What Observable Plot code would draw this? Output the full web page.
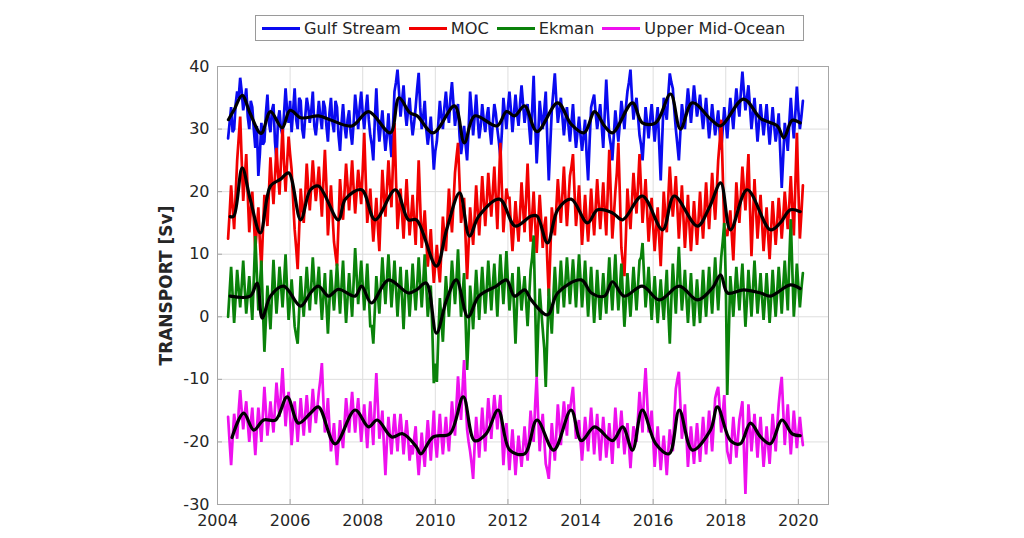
<!DOCTYPE html>
<html>
<head>
<meta charset="utf-8">
<script src="https://cdn.jsdelivr.net/npm/d3@7"></script>
<script src="https://cdn.jsdelivr.net/npm/@observablehq/plot@0.6"></script>
<style>
  html, body { margin: 0; padding: 0; background: #ffffff; }
  #wrap { position: relative; width: 1024px; height: 538px; font-family: "DejaVu Sans", sans-serif; }
  #legend { position: absolute; left: 255px; top: 15px; width: 549px; height: 26px; border: 1px solid #9a9a9a; background: #fff;
            display: flex; align-items: center; font-size: 16.2px; color: #262626; white-space: nowrap; box-sizing: border-box; padding-left: 6px; z-index: 2; }
  #legend .item { display: inline-flex; align-items: center; margin-right: 8px; }
  #legend .sw { display: inline-block; width: 38px; height: 3px; margin-right: 4px; }
  #chart svg g[aria-label="y-axis label"] text { font-weight: bold; font-size: 17px; }
</style>
</head>
<body>
<div id="wrap">
  <div id="legend"></div>
  <div id="chart"></div>
</div>
<script>
// ---- Data ----
// Monthly values starting April 2004 and ending February 2020,
// plus the in-between (mid-month) values of each series.
const firstMonth = 2004.25;
const seriesNames = ["Gulf Stream", "MOC", "Ekman", "Upper Mid-Ocean"];
const seriesColors = ["#0a0af0", "#f20000", "#0a820a", "#ee10ee"];

const gulfStream = [
  28.5, 33.5, 30, 36, 38.2, 33, 36.5, 30, 33.5,
  27, 22.5, 31, 28, 35.5, 29.5, 34, 25, 33, 29, 36.5, 31,
  29.5, 36.5, 30, 34.5, 28.5, 35, 31, 36, 29, 34.5, 30, 33.5,
  28, 35, 29.5, 33.5, 26.5, 34, 28.5, 33, 27.5, 35.5, 30, 36,
  30, 35.5, 29, 25, 36.5, 28, 33, 26.5, 32.5, 25.5, 36, 39.5,
  32, 37, 30.5, 35, 29, 33.5, 39, 30, 34.5, 27.5, 32, 23.5,
  28, 34.5, 30, 36, 31, 37.5, 30.5, 34, 26, 30.5, 25, 36,
  29, 35.5, 28.5, 34, 29.5, 33.5, 27.5, 34, 30, 25.5, 35, 30,
  36, 29.5, 35.5, 30.5, 37, 31, 34, 27.5, 38.5, 24.5, 34.5, 30,
  36, 21.8, 33, 38.9, 31, 35, 29, 33.5, 28, 34, 27, 32,
  26.5, 31.5, 21.8, 33.5, 35.5, 30, 34, 27, 37.9, 29, 25, 33,
  28, 34.5, 30, 36, 39.5, 31.5, 35, 29, 25, 33.5, 28.5, 34,
  28, 33.5, 21.8, 35, 31.5, 38.9, 36.5, 30, 25, 34, 30, 36.5,
  31, 37, 32, 35.5, 30, 35, 28.5, 34, 29, 33, 26.7, 33.5,
  28.5, 35, 30, 36.5, 32, 39.2, 33, 37, 30, 35, 28, 34,
  29, 34, 27.5, 33.5, 28, 32.5, 20.6, 31, 26.5, 35, 28.5, 36.8,
  30, 34.5
];
const gulfStreamMid = [
  31, 29.5, 34, 35, 36, 34.5, 32, 34.5, 30,
  30.5, 26, 27.5, 32.5, 31, 33, 28, 31.5, 30, 32.5, 33, 34.5,
  33, 31.5, 35, 30, 32, 33.5, 33, 30.5, 31.5, 32, 34.5, 30.5,
  32.5, 31, 34.5, 29, 31, 30.5, 31.5, 29.5, 31, 33, 33.5, 32.5,
  33, 31.5, 27.5, 31.5, 31, 30.5, 29.5, 29, 28.5, 30.5, 37.5, 36,
  34.5, 33, 33, 31.5, 31, 36.5, 33.5, 32, 30, 29.5, 28, 26.5,
  31, 32, 33.5, 33, 35, 34, 32.5, 29, 28, 27.5, 30, 33,
  32, 31.5, 30.5, 31.5, 32, 30, 31, 32.5, 28, 29.5, 32.5, 33.5,
  33, 32.5, 32.5, 34, 34, 33, 30.5, 33, 31, 29, 32, 33,
  28.5, 27.5, 36, 34.5, 33, 32, 31.5, 30.5, 31, 30, 29.5, 29,
  29, 26, 28, 34.5, 32.5, 32, 30.5, 32.5, 33, 27.5, 29, 30.5,
  31, 32.5, 33.5, 37.5, 35, 33.5, 32, 27.5, 29, 31, 31.5, 31,
  31, 27.5, 28.5, 33, 35.5, 37.5, 33, 27.5, 29.5, 32, 33.5, 34,
  34, 34.5, 33.5, 32.5, 32.5, 31.5, 31, 31.5, 31, 29.5, 30, 31,
  32, 32.5, 33.5, 34, 36, 36, 35, 33.5, 32.5, 31.5, 31, 31.5,
  31.5, 30.5, 30.5, 30.5, 30, 26.5, 25.5, 29, 31, 31.5, 32.5, 33,
  32
];
const moc = [
  12.5, 21, 14, 25, 32, 18.5, 26, 13.5, 20,
  10.8, 17.5, 7.6, 19.5, 14.5, 25.5, 18, 27, 19.5, 30.4, 20, 28.8,
  23.5, 14, 7.6, 20.5, 15, 24.5, 17, 25, 18.5, 24, 16, 26.7,
  13, 21, 12, 8.1, 22, 15.5, 24.5, 17, 25, 16.5, 23.5, 18,
  29.4, 15, 20.5, 12, 19, 10.5, 23.5, 16, 25, 17.5, 31, 14,
  20.5, 12.5, 22, 13, 19.5, 11.5, 25, 11, 17, 8, 14, 5.4,
  11.5, 5.5, 16, 10.5, 20.5, 13.5, 23, 27.8, 15, 19, 6, 17.5,
  11.5, 21, 13, 22.5, 14.5, 23, 16, 24, 14, 27.8, 13.5, 20.5,
  19, 10.5, 18.5, 12, 21.5, 13.5, 24.5, 12, 20, 10.2, 19.5, 11,
  16, 3.3, 17.5, 13, 22, 15, 24, 14.5, 22.5, 26, 14.5, 21,
  11.5, 19.5, 12, 20.5, 13, 22, 14, 21.5, 13, 26.7, 12.5, 20,
  27.8, 11, 6.5, 20.5, 14, 23, 16.5, 26, 15, 22, 12, 19,
  10.5, 17.5, 8.1, 20, 13.5, 24, 16, 22.5, 12.5, 21, 11, 19.5,
  10.5, 18.5, 11.5, 20, 12.5, 21.5, 14, 23, 15.5, 25, 31.5, 14.5,
  12.9, 17, 9, 21.5, 15, 24, 17, 26, 9.7, 22, 12.5, 19.5,
  10.5, 17.5, 9.2, 18.5, 11.5, 19, 12.5, 20, 14, 22.5, 13, 29.4,
  12.5, 21
];
const mocMid = [
  16.5, 17.5, 19.5, 28.5, 25, 22, 19.5, 17, 15.5,
  14, 12, 13.5, 17, 20, 21.5, 22.5, 23, 25, 24.5, 24.5, 26,
  18.5, 11, 14, 17.5, 19.5, 20.5, 21, 21.5, 21, 20, 21.5, 21,
  17, 16.5, 10, 15, 18.5, 20, 21, 21, 20.5, 20, 21, 23.5,
  22, 17.5, 16, 15.5, 14.5, 17, 19.5, 20.5, 21, 24.5, 22, 17,
  16.5, 17.5, 17.5, 16, 15.5, 18, 18, 14, 12.5, 11, 9.5, 8.5,
  8, 10.5, 13, 15.5, 17, 18, 25.5, 21.5, 17, 12.5, 11.5, 14.5,
  16, 17, 17.5, 18.5, 18.5, 19.5, 20, 19, 21, 20.5, 17, 19,
  14.5, 14.5, 15, 16.5, 17.5, 19, 18, 16, 15, 15, 15.5, 14.5,
  9, 10, 15, 17.5, 18.5, 19.5, 19, 18.5, 24, 20, 17.5, 16.5,
  15.5, 15.5, 16, 16.5, 17.5, 18, 17.5, 17, 20, 19.5, 16, 23,
  19.5, 8.5, 13, 17, 18.5, 19.5, 21, 20.5, 18.5, 17, 15.5, 14.5,
  14, 12.5, 14, 16.5, 19, 20, 19, 17.5, 16.5, 16, 15, 14.5,
  14.5, 15, 15.5, 16, 17, 17.5, 18.5, 19, 20, 28, 23, 13.5,
  15, 13, 15, 18, 19.5, 20.5, 21.5, 17.5, 16, 17, 16, 15,
  14, 13, 14, 15, 15, 16, 16, 17, 18, 17.5, 21, 20.5,
  16.5
];
const ekman = [
  0, 8, -1, 7.5, 1.5, 9, 0.5, 6.5, -0.5,
  12.9, 1, 9, -5.6, 5, -2, 9.1, 0.5, 8, 1.5, 10, -0.5,
  6, -1.5, -4.3, 6.5, 0, 8, 1, 9.5, 2, 8, -0.5, 7,
  -2.7, 7.5, 1, 8.5, 0.5, 9, -1, 7, 0, 11, 2, 9,
  1, 8.5, -1.5, -4.3, 6.5, 0.5, 9.5, 2, 10, 1.5, 9, 0,
  8, -2, 7.5, 0, 8.5, 1, 9.5, 1.5, 10, 0, 5, -10.6,
  -10.4, 3, -4, 6.5, 0, 9, 2, 10.8, 0, 7, -8.5, 5,
  -2, 7.5, -0.5, 8, 0.5, 9, 1, 8.5, 0, 10, 2, 10.5,
  1, 7, -4.3, 8, 1, 6.5, -1.5, 7.5, 13, -9.6, 4.5, -2,
  -11.2, 4.5, -2.7, 8, 0.5, 9, 1.5, 9.5, 2, 9.2, 1.5, 10,
  1.5, 9, 0, 8, -1, 7.5, -0.5, 7, 0.5, 9.5, 1, 10,
  1, 8.5, -1.6, 7, 0, 8, 1, 9, 11.8, 1.5, 8, -0.5,
  6.5, -1, 6, -0.5, 7.5, -4.3, 8.5, 0.5, 11.2, 1, 7.5, -1,
  7, -1.5, 6, -1, 7.5, 0, 8, 0.5, 9.5, 1, 9.5, 15,
  -12.5, 6.5, 0, 8, 1, 8.5, -1.6, 7.5, 0, 9, 0.5, 7,
  -0.5, 7, -1, 7.5, 0, 8, 0.5, 9, 1, 15.6, 0, 8.5,
  1.5, 7
];
const ekmanMid = [
  4, 3.5, 3, 4.5, 5, 4.5, 3.5, 3, 6,
  7, 5, 1.5, -0.5, 1.5, 3.5, 4.5, 4, 5, 5.5, 4.5, 2.5,
  2.5, -3, 1, 3, 4, 4.5, 5, 5.5, 5, 3.5, 3, 2,
  2.5, 4, 4.5, 4.5, 5, 3.5, 3, 3.5, 5.5, 6.5, 5.5, 5,
  4.5, 3.5, -1.5, 1, 3.5, 5, 5.5, 6, 6, 5, 4.5, 4,
  3, 3.5, 4, 4, 4.5, 5, 5.5, 5.5, 5, 2.5, -2, -7.5,
  -3, -0.5, 1.5, 3, 4.5, 5.5, 6, 5, 3.5, -0.5, -3, 2,
  3, 3.5, 4, 4, 4.5, 5, 5, 4.5, 5, 6, 6, 5.5,
  4, 1.5, 2, 4.5, 4, 2.5, 3, 9.5, 2, -2, 1, -5,
  -3.5, 0.5, 3, 4, 4.5, 5, 5.5, 6, 5.5, 5.5, 6, 6,
  5, 4.5, 4, 3.5, 3, 3.5, 3, 3.5, 5, 5, 5.5, 5,
  4.5, 3.5, 2.5, 3.5, 4, 4.5, 5, 9.5, 6.5, 4.5, 3.5, 3,
  2.5, 2.5, 2.5, 3.5, 1, 2.5, 4.5, 6, 5.5, 4, 3, 3,
  2.5, 2.5, 2.5, 3, 3.5, 4, 4, 5, 5, 5.5, 12, 6,
  -3, 3.5, 4, 4.5, 5, 3.5, 2.5, 4, 4.5, 4.5, 3.5, 3,
  3, 3, 3, 3.5, 4, 4.5, 5, 5, 9, 7.5, 4, 5,
  4.5
];
const upperMidOcean = [
  -16, -23.7, -15.5, -19.5, -11.7, -18, -13.5, -20, -14.5,
  -22.1, -14.5, -20, -11.2, -19, -13.5, -18.5, -10.5, -16, -8.2, -17.5, -12,
  -20.5, -13.5, -20, -13, -19, -12.5, -18.5, -11.5, -17, -12, -7.4, -18.5,
  -13, -21.5, -17, -23.7, -16.5, -21, -13, -18.5, -12, -18.5, -13, -20,
  -14, -21, -13.5, -20.5, -9, -19.5, -15, -25.3, -16, -22, -15.5, -21.5,
  -15.5, -22, -16.5, -23, -22, -17.5, -25.3, -18.5, -24, -16.5, -23, -15,
  -22.5, -15.5, -22, -16, -21.5, -13.5, -19, -9.5, -16.5, -6.9, -18, -21.5,
  -25.9, -16, -22.5, -14.5, -21.5, -13, -19.5, -12.5, -18, -12.5, -23.7, -17,
  -24.5, -18, -25.3, -19, -24, -17.5, -23, -15, -20, -9.6, -21.5, -15.5,
  -23.5, -25.9, -17, -23, -14, -20.5, -13.5, -19, -15, -11.2, -19.5, -16.5,
  -23, -16, -21.5, -14.5, -22, -15.5, -23, -16, -22.5, -17, -23.5, -14.5,
  -21, -15, -22, -17, -24.2, -17.5, -20, -12, -18.5, -8.2, -18.5, -15,
  -24, -17.5, -24.5, -19, -25.3, -18, -21.5, -11.5, -8.8, -19.5, -14, -24,
  -17.5, -23.5, -17, -23.2, -16, -22, -15, -21.5, -13, -11.2, -18.5, -12.5,
  -21.5, -23.5, -16, -22.5, -16.5, -13.5, -28.3, -14, -21.5, -15.5, -22.5, -16,
  -24, -17.5, -23.5, -15.5, -21.5, -14, -9.6, -20.5, -14, -22, -15, -21,
  -16, -20.5
];
const upperMidOceanMid = [
  -20, -19.5, -17.5, -15, -15, -15.5, -17, -17, -18.5,
  -18, -17, -15.5, -15, -16.5, -16, -14.5, -13.5, -12, -13, -14.5, -16,
  -17, -16.5, -16.5, -16, -15.5, -15.5, -15, -14.5, -14.5, -10, -13.5, -16,
  -17.5, -19.5, -20.5, -20, -19, -17, -15.5, -15, -15.5, -15.5, -16.5, -17,
  -17.5, -17, -17, -14, -14, -17.5, -20.5, -20, -19, -18.5, -18.5, -18,
  -18.5, -19, -19.5, -20.5, -19.5, -22, -22, -21.5, -20, -19.5, -19, -20,
  -19, -19, -19, -19, -17.5, -16.5, -14, -13, -11.5, -13, -20, -23.5,
  -20.5, -19, -18.5, -18, -17, -16, -15.5, -15, -15, -18.5, -20, -21,
  -21, -21.5, -22, -21.5, -21, -20.5, -19, -17.5, -14, -16, -18, -19.5,
  -24.5, -21.5, -20, -18.5, -17, -16.5, -16, -14, -13, -15.5, -17.5, -20,
  -19.5, -18.5, -18, -18, -18.5, -19.5, -19.5, -19, -20, -20, -19, -18,
  -18, -18.5, -19.5, -20.5, -20.5, -18.5, -16, -15, -12, -13, -17, -19.5,
  -20.5, -21, -21.5, -22, -21.5, -20, -16, -10, -14, -17, -19, -20.5,
  -20.5, -20, -20, -19.5, -19, -18.5, -18, -17.5, -12, -14.5, -15.5, -18,
  -22.5, -19.5, -19, -19.5, -15, -21, -21, -17.5, -18.5, -19, -19, -20,
  -21, -20.5, -19.5, -18.5, -17.5, -11.5, -15, -17, -18, -18.5, -18, -18.5,
  -18.5
];

// Smoothed (low-pass) curves: time (decimal year) and value
const gsSmoothT = [2004.3, 2004.45, 2004.68, 2004.9, 2005.2, 2005.46, 2005.78, 2006.0, 2006.3, 2006.78, 2007.1, 2007.7, 2008.16, 2008.76, 2009.0, 2009.3, 2009.5, 2009.94, 2010.53, 2010.8, 2011.08, 2011.7, 2011.96, 2012.18, 2012.46, 2012.8, 2013.37, 2013.74, 2014.1, 2014.39, 2014.66, 2014.88, 2015.43, 2015.7, 2016.07, 2016.48, 2016.75, 2017.08, 2017.6, 2017.86, 2018.49, 2018.96, 2019.42, 2019.6, 2019.83, 2020.05];
const gsSmoothV = [31.5, 33, 35.4, 32.5, 29.3, 32.8, 30.2, 33.0, 31.8, 32.1, 31.5, 30.5, 32.8, 29.4, 35.0, 32.6, 32.1, 29.4, 33.7, 27.8, 32.1, 30.5, 32.8, 32.1, 33.7, 29.6, 34.2, 30.8, 29.4, 32.8, 30.5, 29.4, 34.2, 31.0, 31.0, 35.6, 30.0, 34.2, 31.5, 30.5, 34.8, 31.7, 30.5, 28.6, 31.4, 31.0];

const mocSmoothT = [2004.35, 2004.45, 2004.68, 2004.9, 2005.18, 2005.46, 2005.74, 2005.96, 2006.29, 2006.56, 2006.78, 2007.33, 2007.52, 2007.97, 2008.34, 2008.9, 2009.26, 2009.48, 2010.03, 2010.31, 2010.67, 2010.94, 2011.2, 2011.77, 2012.2, 2012.64, 2012.8, 2013.09, 2013.37, 2013.74, 2014.19, 2014.47, 2014.88, 2015.16, 2015.7, 2016.26, 2016.58, 2017.22, 2017.55, 2017.86, 2018.13, 2018.59, 2019.23, 2019.5, 2019.78, 2020.05];
const mocSmoothV = [16.0, 16.1, 23.8, 18.8, 13.4, 20.9, 22.0, 23.0, 15.5, 20.3, 20.9, 15.5, 18.8, 20.3, 15.5, 20.3, 15.5, 15.5, 8.1, 13.9, 19.8, 12.9, 16.1, 18.8, 14.5, 16.1, 16.1, 11.8, 17.1, 18.8, 15.0, 17.1, 16.6, 15.5, 19.3, 13.9, 19.3, 14.5, 17.5, 21.4, 13.9, 20.3, 13.9, 15.0, 17.1, 16.8];

const ekSmoothT = [2004.35, 2004.9, 2005.09, 2005.23, 2005.46, 2005.82, 2006.29, 2006.56, 2006.78, 2007.06, 2007.33, 2007.79, 2007.97, 2008.24, 2008.71, 2009.26, 2009.48, 2009.75, 2010.03, 2010.31, 2010.58, 2010.9, 2011.2, 2011.68, 2011.96, 2012.18, 2012.46, 2012.64, 2013.09, 2013.37, 2014.02, 2014.3, 2014.66, 2014.88, 2015.2, 2015.7, 2016.17, 2016.72, 2017.22, 2017.63, 2017.86, 2018.05, 2018.49, 2018.96, 2019.23, 2019.78, 2020.05];
const ekSmoothV = [3.3, 3.3, 5.4, -0.2, 3.3, 4.9, 1.7, 3.8, 4.9, 3.3, 4.4, 3.3, 4.9, 2.2, 5.9, 3.8, 4.3, 5.4, -2.6, 2.7, 5.9, 0.0, 3.3, 4.9, 5.9, 3.3, 4.3, 2.7, 0.3, 3.8, 5.9, 3.8, 3.3, 5.6, 3.3, 4.9, 2.7, 4.9, 2.7, 4.6, 6.7, 3.8, 4.3, 3.8, 3.3, 5.1, 4.5];

const umoSmoothT = [2004.4, 2004.72, 2005.0, 2005.27, 2005.6, 2005.92, 2006.23, 2006.56, 2006.78, 2007.24, 2007.79, 2008.16, 2008.4, 2008.8, 2009.1, 2009.48, 2009.6, 2009.94, 2010.4, 2010.77, 2011.08, 2011.4, 2011.73, 2012.05, 2012.46, 2012.8, 2013.26, 2013.74, 2014.02, 2014.39, 2014.88, 2015.16, 2015.43, 2015.7, 2016.07, 2016.44, 2016.72, 2017.08, 2017.58, 2017.77, 2018.13, 2018.4, 2018.68, 2018.96, 2019.23, 2019.55, 2019.83, 2020.05];
const umoSmoothV = [-19.3, -15.4, -18.1, -16.5, -16.5, -12.8, -17.0, -15.4, -14.4, -20.3, -14.9, -17.6, -16.5, -19.2, -18.7, -20.8, -21.9, -19.2, -18.7, -12.8, -19.8, -18.7, -14.9, -21.3, -21.9, -16.5, -21.3, -14.9, -19.8, -17.6, -19.8, -17.6, -21.3, -14.9, -20.3, -21.9, -14.9, -21.3, -18.1, -14.4, -19.8, -20.3, -17.0, -19.2, -20.3, -16.5, -18.7, -19.0];

const xTicks = [2004, 2006, 2008, 2010, 2012, 2014, 2016, 2018, 2020];
const yTicks = [-30, -20, -10, 0, 10, 20, 30, 40];

// ---- Build tables ----
function interleave(vals, mids) {
  const out = [];
  vals.forEach((v, i) => {
    out.push({t: firstMonth + (i + 0.5) / 12, v});
    if (i < vals.length - 1 && i < mids.length) out.push({t: firstMonth + (i + 1) / 12, v: mids[i]});
  });
  return out;
}
const pairs = (ts, vs) => ts.map((t, i) => ({t, v: vs[i]}));
const raw = [
  interleave(gulfStream, gulfStreamMid),
  interleave(moc, mocMid),
  interleave(ekman, ekmanMid),
  interleave(upperMidOcean, upperMidOceanMid)
];
const smooth = [pairs(gsSmoothT, gsSmoothV), pairs(mocSmoothT, mocSmoothV), pairs(ekSmoothT, ekSmoothV), pairs(umoSmoothT, umoSmoothV)];

// ---- Legend ----
const legend = document.getElementById("legend");
seriesNames.forEach((name, i) => {
  const item = document.createElement("span");
  item.className = "item";
  item.innerHTML = `<span class="sw" style="background:${seriesColors[i]}"></span><span>${name}</span>`;
  legend.appendChild(item);
});

// ---- Chart ----
const chart = Plot.plot({
  width: 1024,
  height: 538,
  marginTop: 66,
  marginBottom: 34,
  marginLeft: 217,
  marginRight: 196,
  style: {fontFamily: "DejaVu Sans, sans-serif", fontSize: "16px", color: "#262626", background: "#ffffff"},
  x: {domain: [2004, 2020.83], label: null},
  y: {domain: [-30, 40], label: null},
  marks: [
    Plot.gridX(xTicks, {stroke: "#dedede", strokeOpacity: 1}),
    Plot.gridY(yTicks, {stroke: "#dedede", strokeOpacity: 1}),
    ...raw.map((d, i) => Plot.line(d, {x: "t", y: "v", stroke: seriesColors[i], strokeWidth: 2.7, strokeLinejoin: "miter", strokeMiterlimit: 2})),
    ...smooth.map(d => Plot.line(d, {x: "t", y: "v", stroke: "#000000", strokeWidth: 3.2, curve: "catmull-rom"})),
    Plot.frame({stroke: "#a6a6a6"}),
    Plot.axisX({ticks: xTicks, tickFormat: d => String(d), tickSize: -5, tickPadding: 15, stroke: "#a6a6a6", label: null}),
    Plot.axisY({ticks: yTicks, tickFormat: d => String(d), tickSize: -5, tickPadding: 13, stroke: "#a6a6a6",
                label: "TRANSPORT [Sv]", labelAnchor: "center", labelOffset: 58, labelArrow: "none"})
  ]
});
document.getElementById("chart").appendChild(chart);
</script>
</body>
</html>
